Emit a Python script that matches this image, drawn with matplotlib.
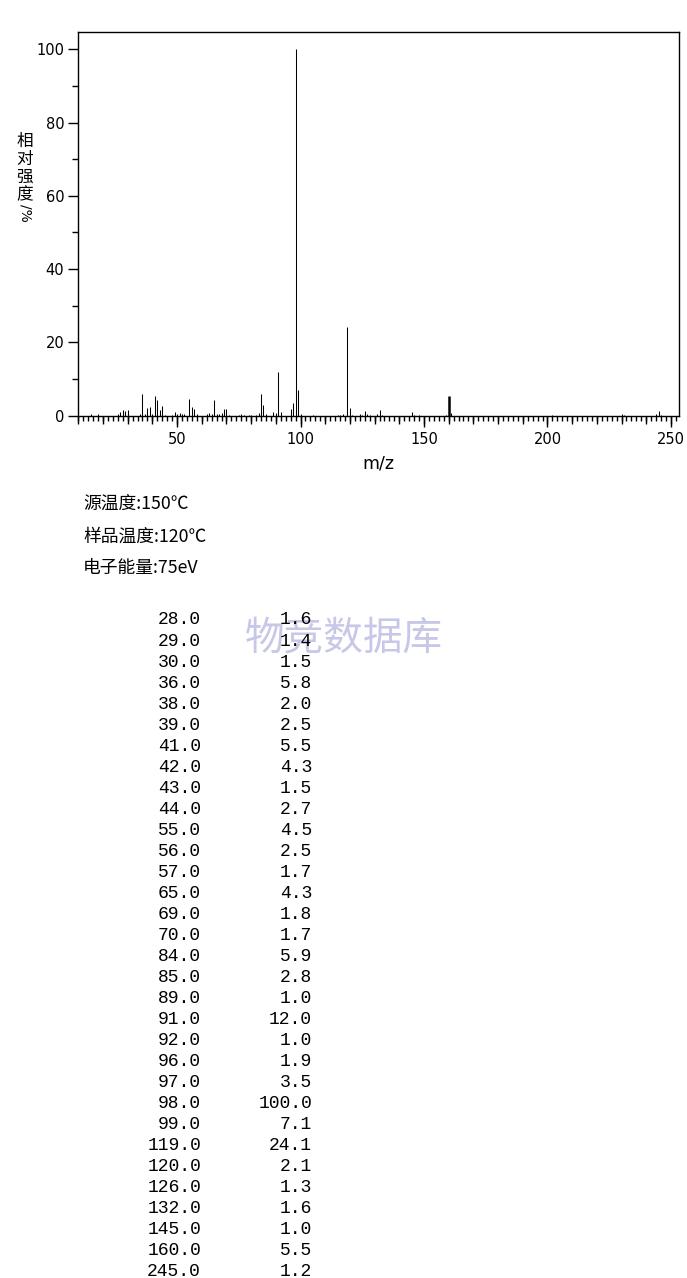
import matplotlib
matplotlib.use("Agg")
import matplotlib.pyplot as plt
from matplotlib.ticker import MultipleLocator, NullFormatter

# Listed peaks (m/z, relative intensity %)
mz_listed = [28, 29, 30, 36, 38, 39, 41, 42, 43, 44, 55, 56, 57, 65, 69, 70, 84, 85,
             89, 91, 92, 96, 97, 98, 99, 119, 120, 126, 132, 145, 160, 245]
int_listed = [1.6, 1.4, 1.5, 5.8, 2.0, 2.5, 5.5, 4.3, 1.5, 2.7, 4.5, 2.5, 1.7, 4.3, 1.8,
              1.7, 5.9, 2.8, 1.0, 12.0, 1.0, 1.9, 3.5, 100.0, 7.1, 24.1, 2.1, 1.3, 1.6,
              1.0, 5.5, 1.2]

# Minor peaks (< 1 %)
mz_minor = [15, 18, 26, 27, 35, 37, 40, 45, 48, 49, 50, 51, 52, 53, 58, 62, 63, 64, 66, 67,
            68, 71, 75, 76, 77, 79, 80, 82, 83, 86, 90, 100, 105, 115, 116, 117, 121, 124,
            125, 127, 128, 131, 133, 146, 148, 159, 161, 202, 230, 231, 244, 246]
int_minor = [0.4, 0.6, 0.4, 0.9, 0.5, 0.4, 0.5, 0.3, 0.3, 0.9, 0.5, 0.7, 0.5, 0.6, 0.4, 0.4,
             0.8, 0.4, 0.4, 0.5, 0.7, 0.3, 0.3, 0.4, 0.3, 0.3, 0.3, 0.3, 0.7, 0.4, 0.7, 0.5,
             0.3, 0.3, 0.3, 0.5, 0.3, 0.4, 0.3, 0.4, 0.3, 0.4, 0.3, 0.3, 0.3, 0.3, 0.7, 0.3,
             0.4, 0.2, 0.4, 0.3]

info_lines = ["源温度:150℃", "样品温度:120℃", "电子能量:75eV"]
ylabel_chars = ["相", "对", "强", "度"]
xticks_major = [50, 100, 150, 200, 250]
yticks_major = [0, 20, 40, 60, 80, 100]

W, H = 687, 1278
fig = plt.figure(figsize=(W / 100, H / 100), dpi=100)
fig.patch.set_facecolor("white")

ax = fig.add_axes([78.3 / W, 1 - 415.7 / H, 601 / W, 384 / H])
ax.vlines(mz_minor, 0, int_minor, color="black", linewidth=0.75)
lw = [1.8 if m == 160 else 0.75 for m in mz_listed]
ax.vlines(mz_listed, 0, int_listed, color="black", linewidth=lw)
ax.set_xlim(10, 253.4)
ax.set_ylim(0, 104.8)

for s in ax.spines.values():
    s.set_linewidth(1.0)
    s.set_color("black")

ax.set_xticks(xticks_major)
ax.xaxis.set_minor_locator(MultipleLocator(2))
ax.set_yticks(yticks_major)
ax.yaxis.set_minor_locator(MultipleLocator(10))
ax.tick_params(axis="x", which="major", direction="out", length=8, width=1, labelsize=10.5, pad=4)
ax.tick_params(axis="x", which="minor", direction="out", length=3.6, width=1)
ax.tick_params(axis="y", which="major", direction="out", length=7, width=1, labelsize=10.5, pad=3)
ax.tick_params(axis="y", which="minor", direction="out", length=4.3, width=1)

sec = ax.secondary_xaxis("bottom")
sec.set_xticks(list(range(10, 260, 10)))
sec.xaxis.set_major_formatter(NullFormatter())
sec.tick_params(axis="x", direction="out", length=5.8, width=1)
sec.spines["bottom"].set_visible(False)

ax.text(0.5, -0.125, "m/z", transform=ax.transAxes, ha="center", va="center", fontsize=12.5)

# vertical stacked y label
for i, ch in enumerate(ylabel_chars):
    fig.text(25 / W, 1 - (141 + i * 18) / H, ch, ha="center", va="center", fontsize=12,
             family=["Noto Sans CJK SC", "DejaVu Sans"])
fig.text(25 / W, 1 - 213 / H, "/%", ha="center", va="center", fontsize=10, rotation=270,
         family=["DejaVu Sans"])

# info text
for i, t in enumerate(info_lines):
    fig.text(83 / W, 1 - (505 + i * 31.5) / H, t, ha="left", va="center", fontsize=12.8,
             family=["Noto Sans CJK SC", "DejaVu Sans"])

# watermark
fig.text(344 / W, 1 - 638 / H, "物竞数据库", ha="center", va="center", fontsize=28.5,
         color=(0.78, 0.78, 0.91), family=["Noto Sans CJK SC"], zorder=0)

# peak table
for i, (m, v) in enumerate(zip(mz_listed, int_listed)):
    y = 1 - (620 + i * 21.03) / H
    fig.text(201 / W, y, f"{m:.1f}", ha="right", va="center", fontsize=13,
             family=["Liberation Mono"], zorder=2)
    fig.text(312 / W, y, f"{v:.1f}", ha="right", va="center", fontsize=13,
             family=["Liberation Mono"], zorder=2)

fig.savefig("out.png", dpi=100, facecolor="white")
